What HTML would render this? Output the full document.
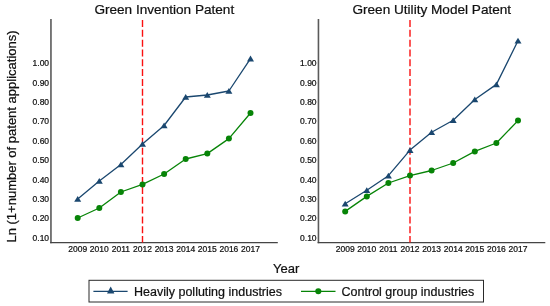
<!DOCTYPE html>
<html><head><meta charset="utf-8"><style>
html,body{margin:0;padding:0;background:#fff;}
body{width:550px;height:306px;overflow:hidden;}
svg{display:block;will-change:transform;font-family:"Liberation Sans",sans-serif;}
text{stroke:#111;stroke-width:0.22px;}
</style></head><body>
<svg width="550" height="306" viewBox="0 0 550 306">
<rect width="550" height="306" fill="#fff"/>
<line x1="50.95" y1="19" x2="50.95" y2="243.2" stroke="#5a5a5a" stroke-width="1.6"/>
<line x1="50.15" y1="242.6" x2="277.80" y2="242.6" stroke="#454545" stroke-width="1.3"/>
<text x="49.10" y="240.72" font-size="8.5" text-anchor="end" fill="#111">0.10</text>
<text x="49.10" y="221.34" font-size="8.5" text-anchor="end" fill="#111">0.20</text>
<text x="49.10" y="201.96" font-size="8.5" text-anchor="end" fill="#111">0.30</text>
<text x="49.10" y="182.58" font-size="8.5" text-anchor="end" fill="#111">0.40</text>
<text x="49.10" y="163.20" font-size="8.5" text-anchor="end" fill="#111">0.50</text>
<text x="49.10" y="143.82" font-size="8.5" text-anchor="end" fill="#111">0.60</text>
<text x="49.10" y="124.44" font-size="8.5" text-anchor="end" fill="#111">0.70</text>
<text x="49.10" y="105.06" font-size="8.5" text-anchor="end" fill="#111">0.80</text>
<text x="49.10" y="85.68" font-size="8.5" text-anchor="end" fill="#111">0.90</text>
<text x="49.10" y="66.30" font-size="8.5" text-anchor="end" fill="#111">1.00</text>
<text x="77.70" y="252.2" font-size="8.5" text-anchor="middle" fill="#111">2009</text>
<text x="99.30" y="252.2" font-size="8.5" text-anchor="middle" fill="#111">2010</text>
<text x="120.90" y="252.2" font-size="8.5" text-anchor="middle" fill="#111">2011</text>
<text x="142.50" y="252.2" font-size="8.5" text-anchor="middle" fill="#111">2012</text>
<text x="164.10" y="252.2" font-size="8.5" text-anchor="middle" fill="#111">2013</text>
<text x="185.70" y="252.2" font-size="8.5" text-anchor="middle" fill="#111">2014</text>
<text x="207.30" y="252.2" font-size="8.5" text-anchor="middle" fill="#111">2015</text>
<text x="228.90" y="252.2" font-size="8.5" text-anchor="middle" fill="#111">2016</text>
<text x="250.50" y="252.2" font-size="8.5" text-anchor="middle" fill="#111">2017</text>
<line x1="142.50" y1="20" x2="142.50" y2="242.4" stroke="#fa1010" stroke-width="1.4" stroke-dasharray="7.0 2.82"/>
<polyline points="77.70,218.00 99.30,208.00 120.90,192.00 142.50,184.40 164.10,174.00 185.70,159.00 207.30,153.60 228.90,138.60 250.50,113.00" fill="none" stroke="#078407" stroke-width="1.3" stroke-linejoin="round"/>
<circle cx="77.70" cy="218.00" r="3.0" fill="#078407"/>
<circle cx="99.30" cy="208.00" r="3.0" fill="#078407"/>
<circle cx="120.90" cy="192.00" r="3.0" fill="#078407"/>
<circle cx="142.50" cy="184.40" r="3.0" fill="#078407"/>
<circle cx="164.10" cy="174.00" r="3.0" fill="#078407"/>
<circle cx="185.70" cy="159.00" r="3.0" fill="#078407"/>
<circle cx="207.30" cy="153.60" r="3.0" fill="#078407"/>
<circle cx="228.90" cy="138.60" r="3.0" fill="#078407"/>
<circle cx="250.50" cy="113.00" r="3.0" fill="#078407"/>
<polyline points="77.70,199.00 99.30,181.00 120.90,164.50 142.50,144.00 164.10,125.50 185.70,97.00 207.30,95.00 228.90,91.00 250.50,58.60" fill="none" stroke="#1a476f" stroke-width="1.3" stroke-linejoin="round"/>
<path d="M77.70,196.00 L81.20,201.80 L74.20,201.80 Z" fill="#1a476f"/>
<path d="M99.30,178.00 L102.80,183.80 L95.80,183.80 Z" fill="#1a476f"/>
<path d="M120.90,161.50 L124.40,167.30 L117.40,167.30 Z" fill="#1a476f"/>
<path d="M142.50,141.00 L146.00,146.80 L139.00,146.80 Z" fill="#1a476f"/>
<path d="M164.10,122.50 L167.60,128.30 L160.60,128.30 Z" fill="#1a476f"/>
<path d="M185.70,94.00 L189.20,99.80 L182.20,99.80 Z" fill="#1a476f"/>
<path d="M207.30,92.00 L210.80,97.80 L203.80,97.80 Z" fill="#1a476f"/>
<path d="M228.90,88.00 L232.40,93.80 L225.40,93.80 Z" fill="#1a476f"/>
<path d="M250.50,55.60 L254.00,61.40 L247.00,61.40 Z" fill="#1a476f"/>
<text x="164.30" y="13.9" font-size="13.6" text-anchor="middle" fill="#111">Green Invention Patent</text>
<line x1="318.45" y1="19" x2="318.45" y2="243.2" stroke="#5a5a5a" stroke-width="1.6"/>
<line x1="317.65" y1="242.6" x2="545.30" y2="242.6" stroke="#454545" stroke-width="1.3"/>
<text x="316.60" y="240.72" font-size="8.5" text-anchor="end" fill="#111">0.10</text>
<text x="316.60" y="221.34" font-size="8.5" text-anchor="end" fill="#111">0.20</text>
<text x="316.60" y="201.96" font-size="8.5" text-anchor="end" fill="#111">0.30</text>
<text x="316.60" y="182.58" font-size="8.5" text-anchor="end" fill="#111">0.40</text>
<text x="316.60" y="163.20" font-size="8.5" text-anchor="end" fill="#111">0.50</text>
<text x="316.60" y="143.82" font-size="8.5" text-anchor="end" fill="#111">0.60</text>
<text x="316.60" y="124.44" font-size="8.5" text-anchor="end" fill="#111">0.70</text>
<text x="316.60" y="105.06" font-size="8.5" text-anchor="end" fill="#111">0.80</text>
<text x="316.60" y="85.68" font-size="8.5" text-anchor="end" fill="#111">0.90</text>
<text x="316.60" y="66.30" font-size="8.5" text-anchor="end" fill="#111">1.00</text>
<text x="345.20" y="252.2" font-size="8.5" text-anchor="middle" fill="#111">2009</text>
<text x="366.80" y="252.2" font-size="8.5" text-anchor="middle" fill="#111">2010</text>
<text x="388.40" y="252.2" font-size="8.5" text-anchor="middle" fill="#111">2011</text>
<text x="410.00" y="252.2" font-size="8.5" text-anchor="middle" fill="#111">2012</text>
<text x="431.60" y="252.2" font-size="8.5" text-anchor="middle" fill="#111">2013</text>
<text x="453.20" y="252.2" font-size="8.5" text-anchor="middle" fill="#111">2014</text>
<text x="474.80" y="252.2" font-size="8.5" text-anchor="middle" fill="#111">2015</text>
<text x="496.40" y="252.2" font-size="8.5" text-anchor="middle" fill="#111">2016</text>
<text x="518.00" y="252.2" font-size="8.5" text-anchor="middle" fill="#111">2017</text>
<line x1="410.00" y1="20" x2="410.00" y2="242.4" stroke="#fa1010" stroke-width="1.4" stroke-dasharray="7.0 2.82"/>
<polyline points="345.20,211.40 366.80,196.40 388.40,183.00 410.00,175.60 431.60,170.50 453.20,163.00 474.80,151.40 496.40,143.00 518.00,120.60" fill="none" stroke="#078407" stroke-width="1.3" stroke-linejoin="round"/>
<circle cx="345.20" cy="211.40" r="3.0" fill="#078407"/>
<circle cx="366.80" cy="196.40" r="3.0" fill="#078407"/>
<circle cx="388.40" cy="183.00" r="3.0" fill="#078407"/>
<circle cx="410.00" cy="175.60" r="3.0" fill="#078407"/>
<circle cx="431.60" cy="170.50" r="3.0" fill="#078407"/>
<circle cx="453.20" cy="163.00" r="3.0" fill="#078407"/>
<circle cx="474.80" cy="151.40" r="3.0" fill="#078407"/>
<circle cx="496.40" cy="143.00" r="3.0" fill="#078407"/>
<circle cx="518.00" cy="120.60" r="3.0" fill="#078407"/>
<polyline points="345.20,203.70 366.80,190.30 388.40,175.70 410.00,150.10 431.60,132.30 453.20,120.30 474.80,99.50 496.40,84.40 518.00,40.80" fill="none" stroke="#1a476f" stroke-width="1.3" stroke-linejoin="round"/>
<path d="M345.20,200.70 L348.70,206.50 L341.70,206.50 Z" fill="#1a476f"/>
<path d="M366.80,187.30 L370.30,193.10 L363.30,193.10 Z" fill="#1a476f"/>
<path d="M388.40,172.70 L391.90,178.50 L384.90,178.50 Z" fill="#1a476f"/>
<path d="M410.00,147.10 L413.50,152.90 L406.50,152.90 Z" fill="#1a476f"/>
<path d="M431.60,129.30 L435.10,135.10 L428.10,135.10 Z" fill="#1a476f"/>
<path d="M453.20,117.30 L456.70,123.10 L449.70,123.10 Z" fill="#1a476f"/>
<path d="M474.80,96.50 L478.30,102.30 L471.30,102.30 Z" fill="#1a476f"/>
<path d="M496.40,81.40 L499.90,87.20 L492.90,87.20 Z" fill="#1a476f"/>
<path d="M518.00,37.80 L521.50,43.60 L514.50,43.60 Z" fill="#1a476f"/>
<text x="431.80" y="13.9" font-size="13.6" text-anchor="middle" fill="#111">Green Utility Model Patent</text>
<text transform="translate(15.9,136.5) rotate(-90)" font-size="13" text-anchor="middle" fill="#111">Ln (1+number of patent applications)</text>
<text x="286.25" y="273.1" font-size="13" text-anchor="middle" fill="#111">Year</text>
<rect x="89" y="280.3" width="394.5" height="21.7" fill="#fff" stroke="#2a2a2a" stroke-width="1"/>
<line x1="93.4" y1="291.35" x2="127.6" y2="291.35" stroke="#1a476f" stroke-width="1.35"/>
<path d="M110.70,286.6 L114.40,293.5 L107.00,293.5 Z" fill="#1a476f"/>
<text x="134" y="296.4" font-size="12.5" fill="#111">Heavily polluting industries</text>
<line x1="301" y1="291.35" x2="335.5" y2="291.35" stroke="#078407" stroke-width="1.35"/>
<circle cx="318.3" cy="291.3" r="3.05" fill="#078407"/>
<text x="341.6" y="296.4" font-size="12.5" fill="#111">Control group industries</text>
</svg>
</body></html>
